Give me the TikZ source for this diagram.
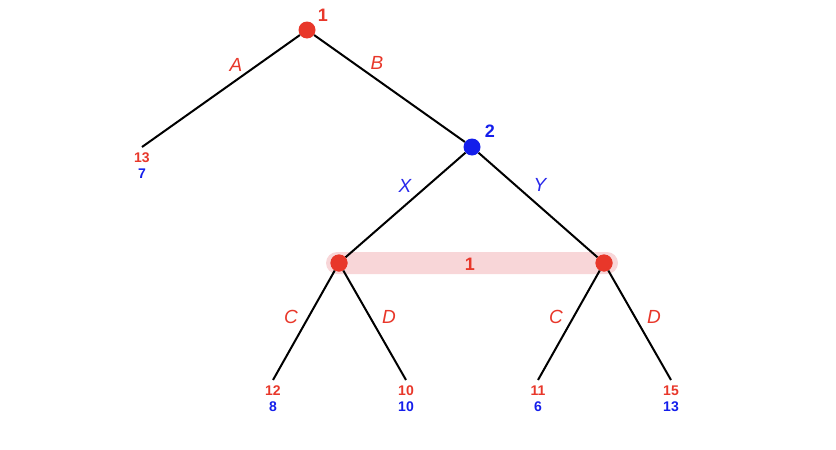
\documentclass[tikz,border=0pt]{standalone}
\usepackage{fontspec}
\setmainfont{Liberation Sans}
\begin{document}
\begin{tikzpicture}[x=1pt,y=-1pt,
  dotr/.style={circle,inner sep=0pt,minimum size=17pt,fill={rgb,255:red,232;green,55;blue,42}},
  dotb/.style={circle,inner sep=0pt,minimum size=17pt,fill={rgb,255:red,20;green,30;blue,235}},
  edge/.style={line width=2pt,black},
  lr/.style={text={rgb,255:red,232;green,55;blue,42},font=\itshape\fontsize{19}{20}\selectfont},
  lb/.style={text={rgb,255:red,40;green,40;blue,235},font=\itshape\fontsize{19}{20}\selectfont},
  pr/.style={text={rgb,255:red,232;green,55;blue,42},font=\bfseries\fontsize{14}{15}\selectfont},
  pb/.style={text={rgb,255:red,20;green,30;blue,235},font=\bfseries\fontsize{14}{15}\selectfont},
  nr/.style={text={rgb,255:red,232;green,55;blue,42},font=\bfseries\fontsize{18}{19}\selectfont},
  nb/.style={text={rgb,255:red,20;green,30;blue,235},font=\bfseries\fontsize{18}{19}\selectfont}]
\useasboundingbox (0,0) rectangle (836,450);
\fill[rounded corners=11pt,fill={rgb,255:red,248;green,214;blue,216}] (326,252) rectangle (618,274);
\coordinate (la) at (142,147);
\coordinate (l1) at (273,380);
\coordinate (l2) at (406,380);
\coordinate (l3) at (538,380);
\coordinate (l4) at (671,380);
\node[dotr] (r) at (307,30) {};
\node[dotb] (n2) at (472,147) {};
\node[dotr] (a) at (339,263) {};
\node[dotr] (b) at (604,263) {};
\draw[edge] (r) -- (la);
\draw[edge] (r) -- (n2);
\draw[edge] (n2) -- (a);
\draw[edge] (n2) -- (b);
\draw[edge] (a) -- (l1);
\draw[edge] (a) -- (l2);
\draw[edge] (b) -- (l3);
\draw[edge] (b) -- (l4);
\node[dotr] at (a) {};
\node[dotr] at (b) {};
\node[nr] (t1) at (323,15) {1};
\node[nb] (t2) at (490,131) {2};
\node[nr] (t3) at (470,264) {1};
\node[lr] (eA) at (236,65) {A};
\node[lr] (eB) at (377,63) {B};
\node[lb] (eX) at (405,186) {X};
\node[lb] (eY) at (540,185) {Y};
\node[lr] (eC1) at (291,317) {C};
\node[lr] (eD1) at (389,317) {D};
\node[lr] (eC2) at (556,317) {C};
\node[lr] (eD2) at (654,317) {D};
\node[pr] (p0a) at (142,158) {13};
\node[pb] (p0b) at (142,174) {7};
\node[pr] (p1a) at (273,391) {12};
\node[pb] (p1b) at (273,407) {8};
\node[pr] (p2a) at (406,391) {10};
\node[pb] (p2b) at (406,407) {10};
\node[pr] (p3a) at (538,391) {11};
\node[pb] (p3b) at (538,407) {6};
\node[pr] (p4a) at (671,391) {15};
\node[pb] (p4b) at (671,407) {13};
\end{tikzpicture}
\end{document}
